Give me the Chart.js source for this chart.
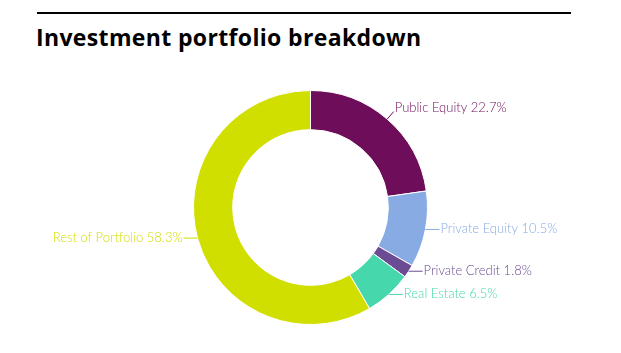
<!DOCTYPE html>
<html>
<head>
<meta charset="utf-8">
<script src="https://cdn.jsdelivr.net/npm/chart.js@4/dist/chart.umd.min.js"></script>
<style>
  body { margin: 0; background: #fff; }
  #wrap { position: relative; width: 621px; height: 353px; }
  #rule { position: absolute; left: 37px; top: 11.7px; width: 534px; height: 2.6px; background: #000; }
  #title { position: absolute; left: 36px; top: 26px; margin: 0; font: 700 23px "Open Sans", sans-serif; letter-spacing: 0.35px; line-height: 23px; color: #000; white-space: nowrap; }
  canvas { position: absolute; left: 0; top: 0; }
</style>
</head>
<body>
<div id="wrap">
  <div id="rule"></div>
  <h1 id="title">Investment portfolio breakdown</h1>
  <canvas id="portfolioChart" width="621" height="353"></canvas>
</div>
<script>
var categories = ['Public Equity', 'Private Equity', 'Private Credit', 'Real Estate', 'Rest of Portfolio'];
var shares = [22.7, 10.5, 1.8, 6.5, 58.3];
var colors = ['#6e0e5a', '#89abe3', '#6b4b94', '#47d7ac', '#d0df00'];

// draws the outside labels with short leader lines
var sliceLabels = {
    id: 'sliceLabels',
    afterDatasetsDraw: function (chart) {
        var ctx = chart.ctx;
        var arcs = chart.getDatasetMeta(0).data;
        ctx.save();
        ctx.font = '300 13px Lato, sans-serif';
        ctx.lineWidth = 1;
        arcs.forEach(function (arc, i) {
            var p = arc.getProps(['x', 'y', 'startAngle', 'endAngle', 'outerRadius'], true);
            var mid = (p.startAngle + p.endAngle) / 2;
            var cos = Math.cos(mid), sin = Math.sin(mid);
            var x0 = p.x + cos * p.outerRadius, y0 = p.y + sin * p.outerRadius;
            var right = cos >= 0;
            var x1, y1, tx, ty;
            if (sin < -0.5) {
                x1 = p.x + cos * (p.outerRadius + 10);
                y1 = p.y + sin * (p.outerRadius + 10);
                tx = x1 + (right ? 1 : -1);
                ty = y1;
            } else {
                x1 = x0 + (right ? 14 : -14);
                y1 = y0;
                tx = x1 + (right ? 1 : -1);
                ty = y1 + 3.5;
            }
            ctx.strokeStyle = colors[i];
            ctx.fillStyle = colors[i];
            ctx.beginPath();
            ctx.moveTo(x0, y0);
            ctx.lineTo(x1, y1);
            ctx.stroke();
            ctx.textAlign = right ? 'left' : 'right';
            ctx.textBaseline = 'alphabetic';
            ctx.fillText(categories[i] + ' ' + shares[i].toFixed(1) + '%', tx, ty);
        });
        ctx.restore();
    }
};

window.onload = function () {
    var config = {
        type: 'doughnut',
        data: {
            labels: categories,
            datasets: [{
                data: shares,
                backgroundColor: colors,
                borderColor: '#ffffff',
                borderWidth: 1
            }]
        },
        options: {
            responsive: false,
            animation: false,
            cutout: '66.5%',
            layout: { padding: { top: 90, bottom: 28 } },
            plugins: {
                legend: { display: false },
                tooltip: { enabled: false }
            }
        },
        plugins: [sliceLabels]
    };
    var ctx = document.getElementById('portfolioChart').getContext('2d');
    window.portfolioChart = new Chart(ctx, config);
};
</script>
</body>
</html>
